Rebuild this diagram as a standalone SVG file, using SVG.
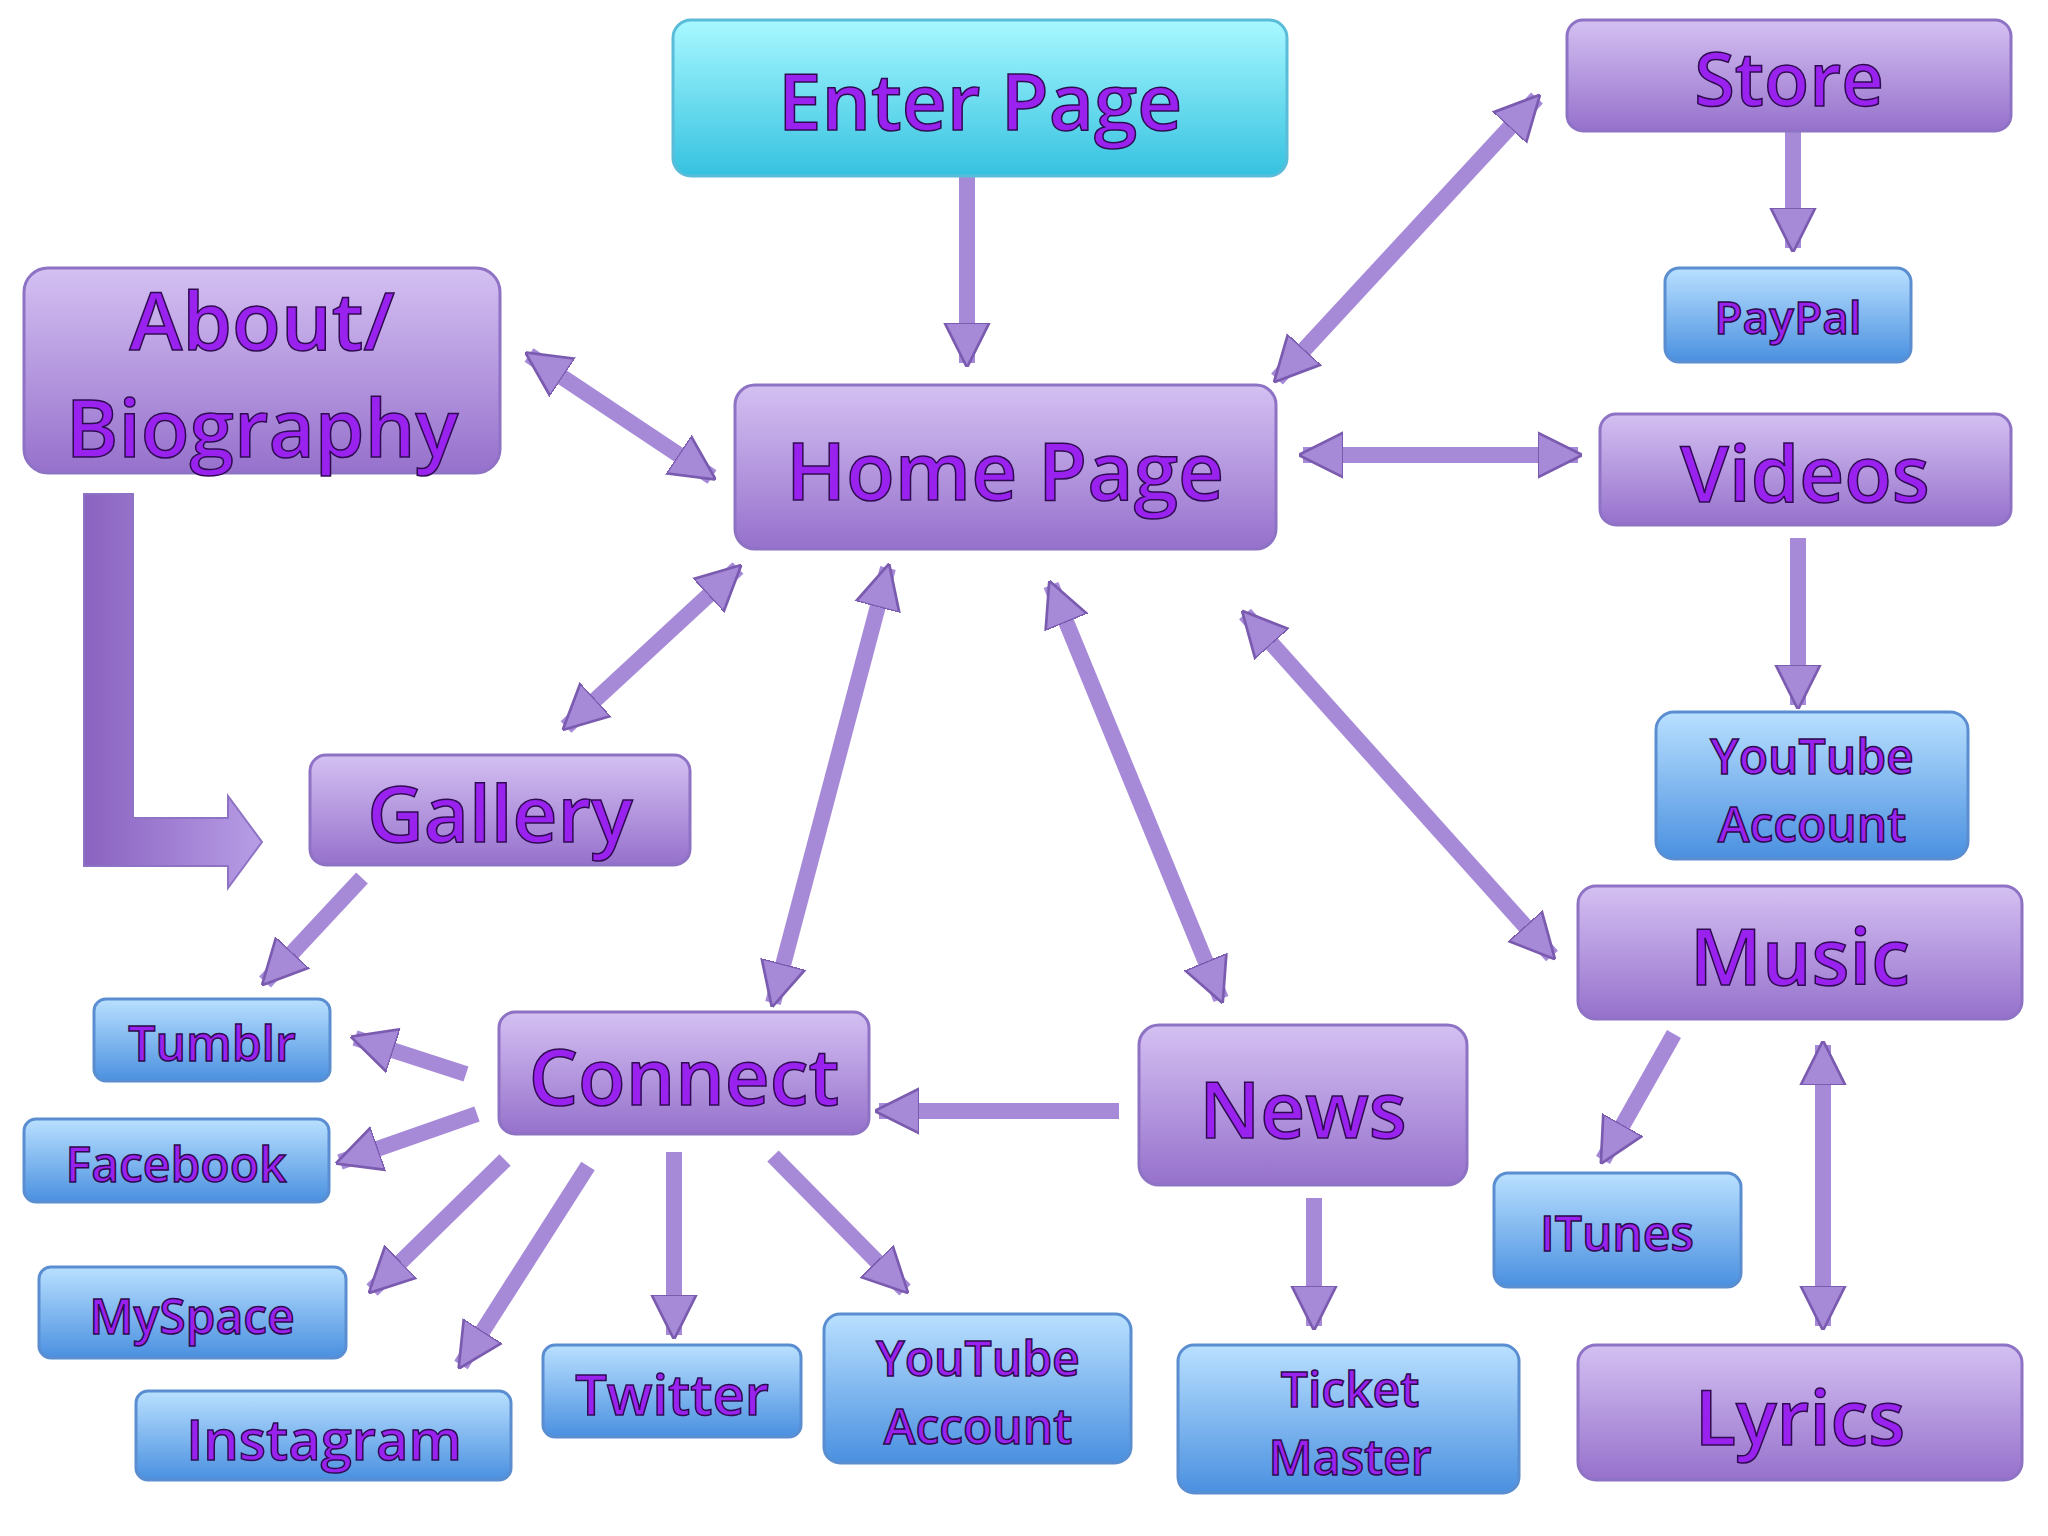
<svg xmlns="http://www.w3.org/2000/svg" width="2048" height="1536" viewBox="0 0 2048 1536">
<defs>
<linearGradient id="gp" x1="0" y1="0" x2="0" y2="1"><stop offset="0" stop-color="#d4c0f2"/><stop offset="1" stop-color="#9671cc"/></linearGradient>
<linearGradient id="gb" x1="0" y1="0" x2="0" y2="1"><stop offset="0" stop-color="#b9e0ff"/><stop offset="1" stop-color="#4a90e0"/></linearGradient>
<linearGradient id="gc" x1="0" y1="0" x2="0" y2="1"><stop offset="0" stop-color="#a8f8ff"/><stop offset="1" stop-color="#35c2e0"/></linearGradient>
<linearGradient id="gl" x1="0" y1="0" x2="1" y2="0"><stop offset="0" stop-color="#8a62c0"/><stop offset="1" stop-color="#b79de6"/></linearGradient>
<marker id="ah" viewBox="0 0 10 10" refX="9" refY="5" markerWidth="2.8" markerHeight="3.2" orient="auto-start-reverse" markerUnits="strokeWidth"><path d="M0,0 L10,5 L0,10 Z" fill="#a68ad8" stroke="#7a5bb0" stroke-width="0.6"/></marker>
</defs>
<style>
.p{fill:url(#gp);stroke:#8e72c4;stroke-width:3}
.b{fill:url(#gb);stroke:#5a8ed0;stroke-width:3}
.c{fill:url(#gc);stroke:#5abcd8;stroke-width:3}
text{font-family:"Open Sans","Liberation Sans",sans-serif;font-weight:600;fill:#9a22ee;stroke:#2e0a50;stroke-width:1.5;text-anchor:middle;dominant-baseline:central}
.a{stroke:#a68ad8;stroke-width:16;fill:none;marker-end:url(#ah)}
.d{marker-start:url(#ah)}
</style>
<rect width="2048" height="1536" fill="#fff"/>
<g id="connectors">
<line class="a" x1="967" y1="172" x2="967" y2="363"/>
<line class="a d" x1="1537" y1="98" x2="1277" y2="379"/>
<line class="a" x1="1793" y1="131" x2="1793" y2="248"/>
<line class="a d" x1="529" y1="355" x2="712" y2="477"/>
<line class="a d" x1="1303" y1="455" x2="1578" y2="455"/>
<line class="a" x1="1798" y1="538" x2="1798" y2="705"/>
<line class="a d" x1="738" y1="568" x2="566" y2="727"/>
<line class="a d" x1="888" y1="568" x2="773" y2="1003"/>
<line class="a d" x1="1051" y1="585" x2="1221" y2="999"/>
<line class="a d" x1="1245" y1="614" x2="1552" y2="956"/>
<path d="M84,494 H133 V818 H228 V796 L262,842 L228,888 V866 H84 Z" fill="url(#gl)" stroke="#8e72c4" stroke-width="2"/>
<line class="a" x1="362" y1="878" x2="265" y2="982"/>
<line class="a" x1="466" y1="1074" x2="355" y2="1038"/>
<line class="a" x1="477" y1="1114" x2="340" y2="1162"/>
<line class="a" x1="505" y1="1160" x2="372" y2="1290"/>
<line class="a" x1="588" y1="1166" x2="461" y2="1365"/>
<line class="a" x1="674" y1="1152" x2="674" y2="1335"/>
<line class="a" x1="773" y1="1156" x2="905" y2="1290"/>
<line class="a" x1="1119" y1="1111" x2="879" y2="1111"/>
<line class="a" x1="1314" y1="1198" x2="1314" y2="1326"/>
<line class="a" x1="1674" y1="1034" x2="1603" y2="1160"/>
<line class="a d" x1="1823" y1="1045" x2="1823" y2="1326"/>
</g>
<g id="enter"><rect class="c" x="673" y="20" width="614" height="156" rx="18"/><text x="980" y="100" font-size="78">Enter Page</text></g>
<g id="store"><rect class="p" x="1567" y="20" width="444" height="111" rx="16"/><text x="1789" y="77" font-size="74">Store</text></g>
<g id="paypal"><rect class="b" x="1665" y="268" width="246" height="94" rx="14"/><text x="1788" y="316" font-size="46">PayPal</text></g>
<g id="about"><rect class="p" x="24" y="268" width="476" height="205" rx="24"/><text x="262" y="318" font-size="80">About/</text><text x="262" y="425" font-size="80">Biography</text></g>
<g id="home"><rect class="p" x="735" y="385" width="541" height="164" rx="20"/><text x="1005" y="468" font-size="80">Home Page</text></g>
<g id="videos"><rect class="p" x="1600" y="414" width="411" height="111" rx="16"/><text x="1805" y="472" font-size="78">Videos</text></g>
<g id="yt1"><rect class="b" x="1656" y="712" width="312" height="147" rx="18"/><text x="1812" y="755" font-size="48">YouTube</text><text x="1812" y="823" font-size="48">Account</text></g>
<g id="gallery"><rect class="p" x="310" y="755" width="380" height="110" rx="16"/><text x="500" y="812" font-size="78">Gallery</text></g>
<g id="music"><rect class="p" x="1578" y="886" width="444" height="133" rx="18"/><text x="1800" y="955" font-size="78">Music</text></g>
<g id="tumblr"><rect class="b" x="94" y="999" width="236" height="82" rx="12"/><text x="212" y="1042" font-size="48">Tumblr</text></g>
<g id="connect"><rect class="p" x="499" y="1012" width="370" height="122" rx="16"/><text x="684" y="1075" font-size="78">Connect</text></g>
<g id="news"><rect class="p" x="1139" y="1025" width="328" height="160" rx="20"/><text x="1303" y="1108" font-size="78">News</text></g>
<g id="facebook"><rect class="b" x="24" y="1119" width="305" height="83" rx="12"/><text x="176" y="1163" font-size="48">Facebook</text></g>
<g id="itunes"><rect class="b" x="1494" y="1173" width="247" height="114" rx="14"/><text x="1617" y="1232" font-size="48">ITunes</text></g>
<g id="myspace"><rect class="b" x="39" y="1267" width="307" height="91" rx="12"/><text x="192" y="1315" font-size="48">MySpace</text></g>
<g id="instagram"><rect class="b" x="136" y="1391" width="375" height="89" rx="12"/><text x="324" y="1438" font-size="56">Instagram</text></g>
<g id="twitter"><rect class="b" x="543" y="1345" width="258" height="92" rx="12"/><text x="672" y="1393" font-size="56">Twitter</text></g>
<g id="yt2"><rect class="b" x="824" y="1314" width="307" height="149" rx="16"/><text x="978" y="1357" font-size="48">YouTube</text><text x="978" y="1425" font-size="48">Account</text></g>
<g id="ticket"><rect class="b" x="1178" y="1345" width="341" height="148" rx="16"/><text x="1350" y="1388" font-size="48">Ticket</text><text x="1350" y="1456" font-size="48">Master</text></g>
<g id="lyrics"><rect class="p" x="1578" y="1345" width="444" height="135" rx="18"/><text x="1800" y="1415" font-size="76">Lyrics</text></g>
</svg>
